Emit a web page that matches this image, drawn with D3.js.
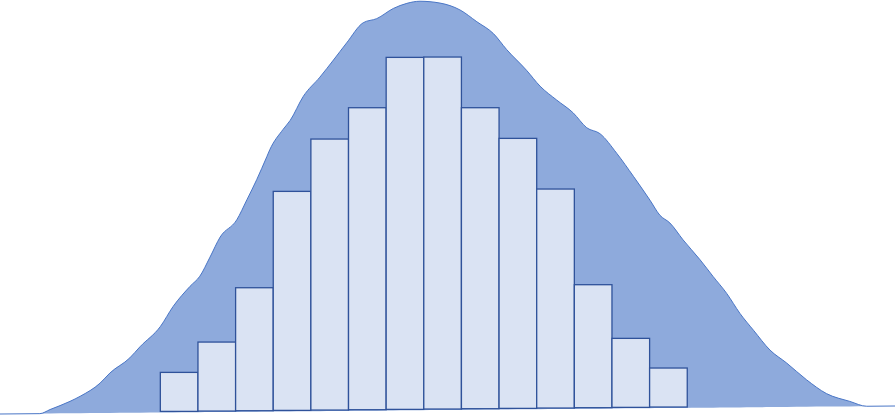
<!DOCTYPE html>
<html>
<head>
<meta charset="utf-8">
<script src="https://cdn.jsdelivr.net/npm/d3@7"></script>
<style>
	html, body { margin: 0; padding: 0; background: #fff; }
	svg { display: block; }
</style>
</head>
<body>
<svg id="chart"></svg>
<script>
// histogram bins: each bar is one unit wide, edges 0..14
var binStart = [0, 1, 2, 3, 4, 5, 6, 7, 8, 9, 10, 11, 12, 13];
var binCount = [39, 69, 123, 219, 271, 302, 352, 352, 301, 270, 219, 123, 69, 39];

// density curve, x in bin units, height in the same units as the bars
var curveX = [-4.26, -3.2, -2.93, -2.4, -2.13, -1.6, -1.34, -0.81, -0.54, 0, 0.34, 0.79, 1.05, 1.32,
	1.59, 2.03, 2.3, 2.56, 2.83, 2.91, 3.26, 3.45, 3.8, 4.24, 4.6, 4.95, 5.39, 5.75, 6.19, 6.55,
	6.9, 7.43, 7.96, 8.41, 8.85, 9.2, 9.73, 10.09, 10.53, 10.97, 11.33, 11.68, 12.13, 12.57,
	13.01, 13.27, 13.54, 13.89, 14.34, 14.69, 15.05, 15.4, 15.76, 16.2, 16.64, 17.17, 17.7,
	18.32, 18.77, 19.52];
var curveY = [0, 0, 4, 12, 17, 30, 40, 55, 66, 86, 106, 126, 136, 155,
	175, 192, 212, 232, 255, 262, 282, 291, 315, 334, 351, 368, 388, 392, 402, 407,
	409, 407, 400, 388, 376, 360, 339, 323, 309, 296, 281, 275, 255, 232,
	208, 193, 185, 168, 148, 131, 114, 94, 77, 57, 44, 27, 13,
	5, 0, 0];

var width = 895, height = 415;

var svg = d3.select("#chart")
	.attr("width", width)
	.attr("height", height);

var xScale = d3.scaleLinear()
	.domain([-4.26, 19.52])
	.range([0, width]);

// heights go up from the baseline
var yScale = d3.scaleLinear()
	.domain([0, 410])
	.range([0, -410]);

// the picture sits on a slightly tilted floor
var floor = d3.scaleLinear()
	.domain([0, width])
	.range([414, 406]);

var curveData = curveX.map(function(d, i) {
	return [d, curveY[i]];
});

var area = d3.area()
	.x(function(d) { return xScale(d[0]); })
	.y0(function(d) { return floor(xScale(d[0])); })
	.y1(function(d) { return floor(xScale(d[0])) + yScale(d[1]); })
	.curve(d3.curveMonotoneX);

var line = d3.line()
	.x(function(d) { return xScale(d[0]); })
	.y(function(d) { return floor(xScale(d[0])) + yScale(d[1]); })
	.curve(d3.curveMonotoneX);

svg.append("path")
	.datum(curveData)
	.attr("d", area)
	.attr("fill", "#8eaadc")
	.attr("stroke", "none");

svg.append("path")
	.datum(curveData)
	.attr("d", line)
	.attr("fill", "none")
	.attr("stroke", "#4a76c6")
	.attr("stroke-width", 1);

var bars = svg.append("g").attr("class", "bars");

bars.selectAll("rect")
	.data(binCount)
	.enter()
	.append("rect")
	.attr("x", function(d, i) {
		return xScale(binStart[i]);
	})
	.attr("width", function(d, i) {
		return xScale(binStart[i] + 1) - xScale(binStart[i]);
	})
	.attr("y", function(d, i) {
		var base = floor(xScale(binStart[i] + 0.5)) - 1;
		return base + yScale(d);
	})
	.attr("height", function(d) {
		return -yScale(d);
	})
	.attr("fill", "#dae3f3")
	.attr("stroke", "#2f529a")
	.attr("stroke-width", 1.3);
</script>
</body>
</html>
